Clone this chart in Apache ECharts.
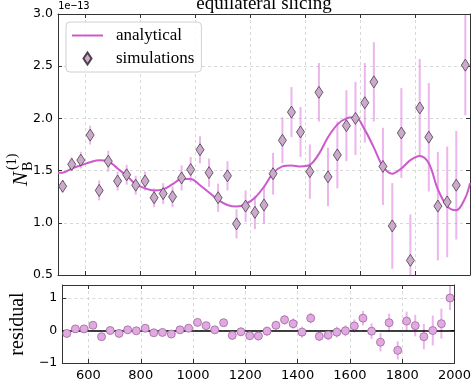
<!DOCTYPE html>
<html>
<head>
<meta charset="utf-8">
<script src="https://cdn.jsdelivr.net/npm/echarts@6/dist/echarts.min.js"></script>
<style>
html,body{margin:0;padding:0;background:#fff;}
#chart{width:474px;height:382px;}
</style>
</head>
<body>
<div id="chart"></div>
<script>
// ---- data ----
const binCentres = [517, 550, 583, 617, 650, 683, 717, 750, 783, 817, 850, 883, 917, 950, 983,
  1017, 1050, 1083, 1117, 1150, 1183, 1217, 1250, 1283, 1317, 1350, 1383, 1417, 1450, 1483,
  1517, 1550, 1583, 1617, 1650, 1683, 1717, 1750, 1783, 1817, 1850, 1883, 1917, 1950, 1983];
const simValues = [1.35, 1.56, 1.60, 1.84, 1.31, 1.59, 1.40, 1.46, 1.36, 1.40, 1.24, 1.28, 1.25, 1.43, 1.51,
  1.70, 1.48, 1.24, 1.45, 0.99, 1.16, 1.10, 1.17, 1.47, 1.79, 2.06, 1.87, 1.49, 2.25, 1.44,
  1.65, 1.93, 2.00, 2.15, 2.35, 1.54, 0.97, 1.86, 0.64, 2.10, 1.82, 1.16, 1.20, 1.36, 2.51];
const simErrors = [0.06, 0.065, 0.08, 0.09, 0.095, 0.10, 0.09, 0.095, 0.09, 0.09, 0.09, 0.10, 0.10, 0.12, 0.12,
  0.13, 0.135, 0.135, 0.14, 0.14, 0.15, 0.16, 0.18, 0.20, 0.22, 0.24, 0.24, 0.26, 0.28, 0.28,
  0.32, 0.34, 0.35, 0.38, 0.38, 0.37, 0.41, 0.43, 0.44, 0.47, 0.52, 0.52, 0.53, 0.52, 0.48];
const curveX = [500, 517, 550, 583, 617, 650, 683, 717, 750, 783, 817, 850, 883, 917, 950, 983,
  1017, 1050, 1083, 1117, 1150, 1183, 1217, 1250, 1283, 1317, 1350, 1383, 1417, 1450, 1483,
  1517, 1550, 1583, 1617, 1650, 1683, 1717, 1750, 1783, 1817, 1850, 1883, 1917, 1950, 1983, 2000];
const curveY = [1.48, 1.48, 1.52, 1.55, 1.58, 1.60, 1.59, 1.52, 1.45, 1.37, 1.33, 1.31, 1.32, 1.37, 1.42, 1.42,
  1.36, 1.29, 1.22, 1.17, 1.155, 1.18, 1.24, 1.345, 1.475, 1.54, 1.55, 1.54, 1.555, 1.66, 1.82,
  1.94, 2.00, 2.01, 1.89, 1.72, 1.54, 1.47, 1.52, 1.60, 1.64, 1.57, 1.32, 1.16, 1.12, 1.24, 1.38];
const residValues = [-0.09, 0.05, 0.05, 0.16, -0.19, 0.0, -0.09, 0.02, -0.01, 0.07, -0.07, -0.06, -0.11, 0.02, 0.07,
  0.25, 0.15, 0.02, 0.24, -0.15, -0.04, -0.16, -0.17, -0.02, 0.16, 0.33, 0.21, -0.05, 0.38, -0.18,
  -0.14, -0.05, -0.01, 0.14, 0.38, -0.02, -0.36, 0.24, -0.61, 0.29, 0.15, -0.19, 0.0, 0.21, 1.0];
const residErrors = [0.04, 0.04, 0.05, 0.06, 0.06, 0.06, 0.06, 0.07, 0.07, 0.07, 0.07, 0.08, 0.07, 0.08, 0.08,
  0.10, 0.10, 0.11, 0.12, 0.12, 0.13, 0.13, 0.13, 0.14, 0.14, 0.15, 0.16, 0.17, 0.16, 0.15,
  0.16, 0.17, 0.17, 0.20, 0.22, 0.24, 0.28, 0.28, 0.28, 0.29, 0.33, 0.39, 0.46, 0.46, 0.37];
const xTicks = [600, 800, 1000, 1200, 1400, 1600, 1800, 2000];
const topYTicks = [0.5, 1.0, 1.5, 2.0, 2.5, 3.0];
const residYTicks = [-1, 0, 1];
const residZero = 0;

// ---- styles ----
const frame = '#333';
const gridLine = {show: true, lineStyle: {color: '#cfcfcf', width: 0.8, type: [3, 3]}};
const tickFont = {fontFamily: 'DejaVu Sans', fontSize: 12.5, color: '#000'};
const serif = 'Liberation Serif';
const errColor = 'rgba(222,120,222,0.55)';

function xAx(gridIndex, position, labels, split) {
  return {
    type: 'value', gridIndex, position, min: 500, max: 2000,
    axisLine: {show: true, onZero: false, lineStyle: {color: frame, width: 1}},
    axisTick: {show: true, inside: true, length: 4, customValues: xTicks, lineStyle: {color: frame}},
    axisLabel: {show: labels, customValues: xTicks, margin: 6, ...tickFont, fontSize: 13,
      formatter: v => String(v)},
    splitLine: split ? gridLine : {show: false}
  };
}
function yAx(gridIndex, position, min, max, ticks, labels, split) {
  return {
    type: 'value', gridIndex, position, min, max,
    axisLine: {show: true, onZero: false, lineStyle: {color: frame, width: 1}},
    axisTick: {show: true, inside: true, length: 4, customValues: ticks, lineStyle: {color: frame}},
    axisLabel: {show: labels, customValues: ticks, margin: 5, ...tickFont,
      formatter: v => gridIndex === 0 ? v.toFixed(1) : (v < 0 ? '\u2212' + Math.abs(v) : String(v))},
    splitLine: split ? gridLine : {show: false}
  };
}

function errRender(params, api) {
  const x = api.value(0), y = api.value(1), e = api.value(2);
  const p1 = api.coord([x, y - e]);
  const p2 = api.coord([x, y + e]);
  return {type: 'line', shape: {x1: p1[0], y1: p1[1], x2: p2[0], y2: p2[1]},
    style: {stroke: errColor, lineWidth: 2}};
}

const diamondPath = 'path://M4,0 L8,6 L4,12 L0,6 Z';
const lineIcon = 'path://M0,0 L31,0 L31,2 L0,2 Z';

const option = {
  animation: false,
  backgroundColor: '#fff',
  grid: [
    {left: 58, right: 4, top: 14, height: 261},
    {left: 58, right: 4, top: 285, height: 87}
  ],
  xAxis: [
    xAx(0, 'bottom', false, true),
    xAx(0, 'top', false, false),
    xAx(1, 'bottom', true, true),
    xAx(1, 'top', false, false)
  ],
  yAxis: [
    yAx(0, 'left', 0.5, 3.0, topYTicks, true, true),
    yAx(0, 'right', 0.5, 3.0, topYTicks, false, false),
    Object.assign(yAx(1, 'left', -1, 1.4, residYTicks, true, true), {
      name: 'residual', nameLocation: 'middle', nameRotate: 90, nameGap: 14,
      nameTextStyle: {fontFamily: serif, fontSize: 20, color: '#000'}
    }),
    yAx(1, 'right', -1, 1.4, residYTicks, false, false)
  ],
  legend: {
    orient: 'vertical', left: 66, top: 22,
    padding: [5, 7, 5, 6], itemGap: 6, itemWidth: 31, itemHeight: 12,
    borderColor: '#d0d0d0', borderWidth: 1, borderRadius: 4,
    backgroundColor: 'rgba(255,255,255,0.85)',
    textStyle: {fontFamily: serif, fontSize: 17, color: '#000', padding: [0, 0, 0, 8]},
    data: [{name: 'analytical', icon: lineIcon}, {name: 'simulations', icon: diamondPath}]
  },
  graphic: [
    {type: 'text', x: 264, y: 14, style: {text: 'equilateral slicing', fontFamily: serif, fontSize: 19,
      fill: '#000', textAlign: 'center', textVerticalAlign: 'bottom'}},
    {type: 'text', x: 58, y: 12, style: {text: '1e\u221213', fontFamily: 'DejaVu Sans Mono', fontSize: 10.5,
      fill: '#000', textAlign: 'left', textVerticalAlign: 'bottom'}},
    {type: 'group', x: 21, y: 186, rotation: Math.PI / 2, children: [
      {type: 'text', x: 0, y: 0, style: {text: 'N', fontFamily: serif, fontStyle: 'italic', fontSize: 21,
        fill: '#000', textAlign: 'left', textVerticalAlign: 'middle'}},
      {type: 'text', x: 15, y: 7, style: {text: 'B', fontFamily: serif, fontSize: 14,
        fill: '#000', textAlign: 'left', textVerticalAlign: 'middle'}},
      {type: 'text', x: 16, y: -9, style: {text: '(1)', fontFamily: serif, fontSize: 14,
        fill: '#000', textAlign: 'left', textVerticalAlign: 'middle'}}
    ]}
  ],
  series: [
    {
      type: 'custom', name: 'simErr', xAxisIndex: 0, yAxisIndex: 0, clip: true, z: 1,
      renderItem: errRender,
      data: binCentres.map((x, i) => [x, simValues[i], simErrors[i]])
    },
    {
      type: 'line', name: 'analytical', xAxisIndex: 0, yAxisIndex: 0, smooth: 0.35,
      symbol: 'none', z: 2,
      lineStyle: {color: '#cc5acc', width: 2}, itemStyle: {color: '#cc5acc'},
      data: curveX.map((x, i) => [x, curveY[i]])
    },
    {
      type: 'scatter', name: 'simulations', xAxisIndex: 0, yAxisIndex: 0, z: 3,
      symbol: diamondPath, symbolSize: [8, 12],
      itemStyle: {color: '#cdaacd', borderColor: '#4a404a', borderWidth: 0.8, opacity: 1},
      data: binCentres.map((x, i) => [x, simValues[i]])
    },
    {
      type: 'custom', name: 'residErr', xAxisIndex: 2, yAxisIndex: 2, clip: true, z: 1,
      renderItem: errRender,
      data: binCentres.map((x, i) => [x, residValues[i], residErrors[i]]),
      markLine: {
        silent: true, symbol: 'none', label: {show: false},
        lineStyle: {color: '#000', width: 1.5, type: 'solid'},
        data: [{yAxis: residZero}]
      }
    },
    {
      type: 'scatter', name: 'residuals', xAxisIndex: 2, yAxisIndex: 2, z: 10,
      symbol: 'circle', symbolSize: 8,
      itemStyle: {color: '#e2a8e2', borderColor: '#9a6a9a', borderWidth: 0.8, opacity: 1},
      data: binCentres.map((x, i) => [x, residValues[i]])
    }
  ]
};

const chart = echarts.init(document.getElementById('chart'), null, {renderer: 'canvas'});
chart.setOption(option);
</script>
</body>
</html>
